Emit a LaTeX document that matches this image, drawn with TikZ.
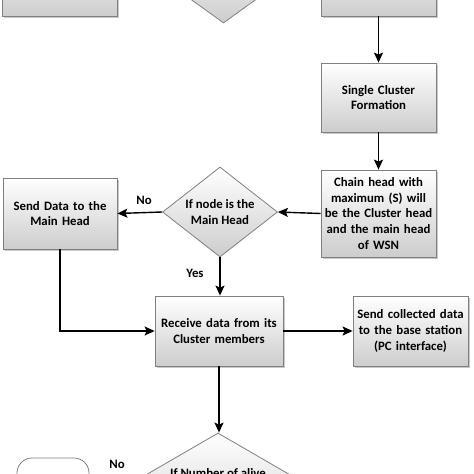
\documentclass[tikz,border=0pt]{standalone}
\usepackage{fontspec}
\setmainfont{Carlito}
\usetikzlibrary{shapes.geometric,arrows.meta,shadows}
\definecolor{bordergray}{RGB}{128,128,128}
\definecolor{fillbot}{RGB}{205,205,205}
\begin{document}
\begin{tikzpicture}[x=1pt,y=-1pt,
  txt/.style={font=\bfseries\fontsize{12.8}{15.6}\selectfont},
  box/.style={rectangle, draw=bordergray, line width=0.8pt, top color=white, bottom color=fillbot,
    drop shadow={shadow xshift=2pt, shadow yshift=-2pt, fill=black!35, opacity=0.6},
    minimum width=115pt, minimum height=70pt, text width=110pt, align=center, inner sep=0pt, txt},
  dia/.style={diamond, draw=bordergray, line width=0.8pt, top color=white, bottom color=fillbot,
    inner sep=0pt, align=center, txt},
  term/.style={rectangle, rounded corners=15pt, draw=bordergray, line width=0.8pt, fill=white,
    minimum width=72pt, minimum height=36pt},
  lbl/.style={inner sep=0pt, txt},
  arr/.style={-{Stealth[length=10pt,width=9pt,inset=2pt]}, line width=1.4pt},
  ln/.style={line width=1.4pt}
]
\useasboundingbox (0,0) rectangle (474,474);
\clip (0,0) rectangle (474,474);
\fill[white] (0,0) rectangle (474,474);

% top row (cut off)
\node[box] (tl) at (59.5,-19) {};
\node[dia, aspect=1.39, minimum width=125pt, minimum height=90pt] (td) at (223.5,-22) {};
\node[box] (tr) at (378.5,-19) {};

\node[box, minimum height=69pt] (sc) at (378.5,97.5) {Single Cluster\\Formation};
\node[box, minimum height=87pt] (ch) at (378.5,213.5) {Chain head with\\maximum (S) will\\be the Cluster head\\and the main head\\of WSN};
\node[dia, aspect=1.28, minimum width=115pt, minimum height=90pt] (d1) at (220,212) {If node is the\\Main Head};
\node[box, minimum width=114pt, minimum height=71pt] (sd) at (60,213.5) {Send Data to the\\Main Head};
\node[box, minimum width=128pt, minimum height=70pt, text width=124pt] (rc) at (219,331) {Receive data from its\\Cluster members};
\node[box, minimum width=115pt, minimum height=70pt] (sb) at (410.5,331) {Send collected data\\to the base station\\(PC interface)};

% bottom (cut off)
\node[dia, aspect=1.73, minimum width=190pt, minimum height=110pt] (d2) at (218,488) {};
\node[lbl, anchor=base] (d2t) at (218,477) {If Number of alive};
\node[term] (tm) at (53,476) {};

% labels
\node[lbl] (no1) at (144,200) {No};
\node[lbl] (yes1) at (195,273) {Yes};
\node[lbl] (no2) at (117,464.5) {No};

% connectors
\draw[arr] (tr.south) -- (sc.north);
\draw[arr] (sc.south) -- (ch.north);
\draw[arr] (ch.west) -- (d1.east);
\draw[arr] (d1.west) -- (sd.east);
\draw[arr] (d1.south) -- (d1.south |- rc.north);
\draw[arr] (sd.south) |- (rc.west);
\draw[arr] (rc.east) -- (sb.west);
\draw[arr] (rc.south) -- (rc.south |- d2.north);
\end{tikzpicture}
\end{document}
